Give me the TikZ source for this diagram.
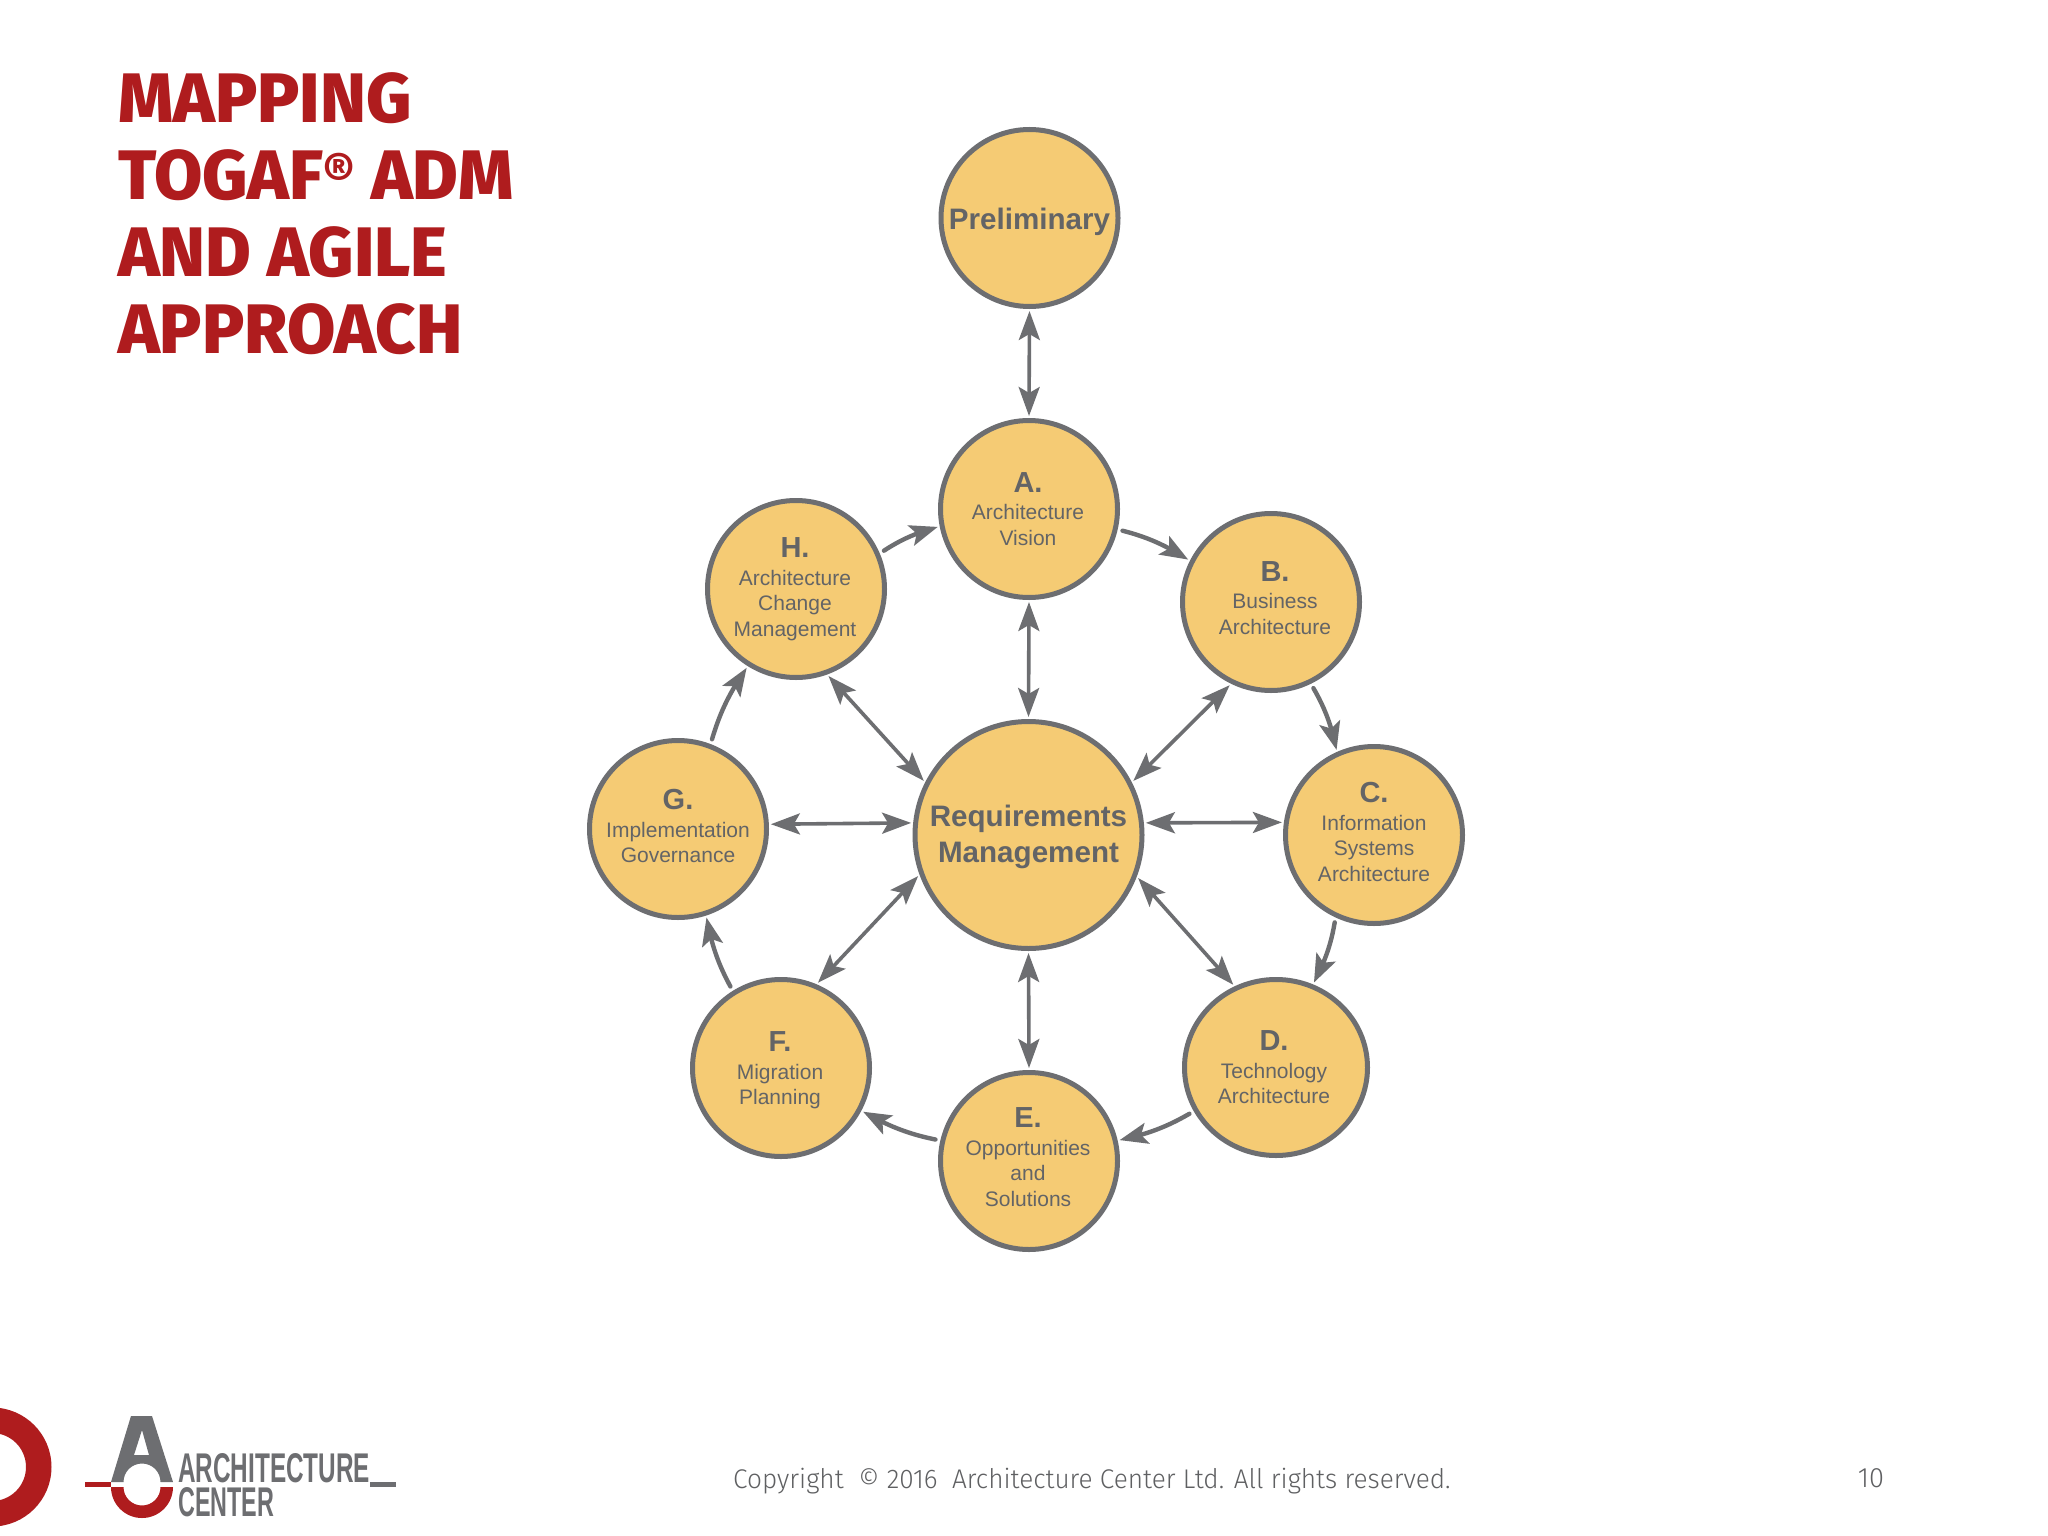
\documentclass[tikz,border=0pt]{standalone}
\usepackage{fontspec}
\usetikzlibrary{arrows.meta,bending,shapes.geometric}
\setmainfont{Liberation Sans}
\newfontfamily\titlefont{Fira Sans ExtraBold}
\newfontfamily\footfont[FakeStretch=0.97]{Fira Sans Light}
\newfontfamily\logofont{Liberation Sans}
\definecolor{phasefill}{HTML}{F5CB74}
\definecolor{phaseline}{HTML}{6D6E71}
\definecolor{phasetext}{HTML}{636466}
\definecolor{brandred}{HTML}{AF1C1E}
\definecolor{footgray}{HTML}{5F6062}
\newcommand{\phasehead}[1]{{\fontsize{29}{29}\selectfont\bfseries #1}\\[2pt]}
\tikzset{
  phase/.style={circle,draw=phaseline,fill=phasefill,line width=5pt,minimum size=177pt,inner sep=0pt},
  phasetxt/.style={align=center,inner sep=0pt,text=phasetext,font=\fontsize{21}{25.5}\selectfont},
  bigtxt/.style={phasetxt,font=\fontsize{29.6}{36.5}\selectfont\bfseries},
  flow/.style={draw=phaseline,line width=4.4pt,line cap=round,shorten <=5pt,shorten >=2pt,
    -{Stealth[length=28pt,width=21pt,inset=6pt,flex]}},
  link/.style={draw=phaseline,line width=3.6pt,shorten <=2pt,shorten >=2pt,
    {Stealth[length=29pt,width=21pt,inset=6pt]}-{Stealth[length=29pt,width=21pt,inset=6pt]}},
}
\begin{document}
\begin{tikzpicture}[x=1pt,y=-1pt]
\useasboundingbox (0,0) rectangle (2048,1536);
\fill[white] (0,0) rectangle (2048,1536);
% title
\node[anchor=north west,inner sep=0pt,align=left,text=brandred,font=\titlefont\fontsize{70}{77}\selectfont] (title) at (118,72)
  {MAPPING\\TOGAF\textsuperscript{®} ADM\\AND AGILE\\APPROACH};
% phases
\node[phase,label={[bigtxt,yshift=-4pt,font=\fontsize{29.6}{30}\selectfont\bfseries]center:Preliminary}] (P) at (1029.5,218) {};
\node[phase,label={[phasetxt,xshift=-1pt]center:{\phasehead{A.}Architecture\\Vision}}] (A) at (1029,509) {};
\node[phase,label={[phasetxt,xshift=4pt,yshift=4pt]center:{\phasehead{B.}Business\\Architecture}}] (B) at (1271,602) {};
\node[phase,label={[phasetxt,yshift=3pt]center:{\phasehead{C.}Information\\Systems\\Architecture}}] (C) at (1374,835) {};
\node[phase,ellipse,minimum width=183pt,minimum height=176pt,label={[phasetxt,xshift=-2pt]center:{\phasehead{D.}Technology\\Architecture}}] (D) at (1276,1067.5) {};
\node[phase,label={[phasetxt,yshift=4pt,xshift=-1pt]center:{\phasehead{E.}Opportunities\\and\\Solutions}}] (E) at (1029,1161) {};
\node[phase,label={[phasetxt,yshift=-2.5pt,xshift=-1pt]center:{\phasehead{F.}Migration\\Planning}}] (F) at (781,1068) {};
\node[phase,label={[phasetxt,yshift=3pt]center:{\phasehead{G.}Implementation\\Governance}}] (G) at (678,829) {};
\node[phase,label={[phasetxt,xshift=-1pt]center:{\phasehead{H.}Architecture\\Change\\Management}}] (H) at (796,589) {};
\node[phase,minimum size=227pt,label={[bigtxt,yshift=-2pt]center:{Requirements\\Management}}] (R) at (1028.5,835) {};
% cycle
\draw[flow] (A.-13) to[bend left=9] (B.153);
\draw[flow] (B.-64) to[bend left=9] (C.114);
\draw[flow] (C.-115) to[bend left=9] (D.66);
\draw[flow] (D.208) to[bend left=9] (E.13.6);
\draw[flow] (E.167) to[bend left=9] (F.-28);
\draw[flow] (F.122) to[bend left=9] (G.-72);
\draw[flow] (G.69) to[bend left=9] (H.238.5);
\draw[flow] (H.23.6) to[bend left=9] (A.191);
% links to requirements management
\draw[link] (P.-90) -- (A.90);
\draw[link] (A.-90) -- (R.90);
\draw[link] (R.27.4) -- (B.244);
\draw[link] (R.6.5) -- (C.172.5);
\draw[link] (R.-21.6) -- (D.117.7);
\draw[link] (R.-90) -- (E.90);
\draw[link] (R.200.4) -- (F.67);
\draw[link] (R.174.7) -- (G.3);
\draw[link] (R.153.4) -- (H.-70);
% footer
\node[anchor=base west,inner sep=0pt,text=footgray,font=\footfont\fontsize{27}{30}\selectfont] (copy) at (733,1488)
  {Copyright \ © 2016 \ Architecture Center Ltd. All rights reserved.};
\node[anchor=base,inner sep=0pt,text=footgray,font=\footfont\fontsize{28}{30}\selectfont] (page) at (1871,1487) {10};
% logo
\fill[brandred,even odd rule] (-8,1467) circle[radius=59.5] (-8,1467) circle[radius=34];
\fill[phaseline,even odd rule] (131,1416) -- (152,1416) -- (173,1482) -- (160.5,1482) arc[start angle=0,end angle=-180,radius=18.5] -- (111,1482) -- cycle
  (142,1430) -- (149,1455) -- (134,1455) -- cycle;
\fill[brandred] (85,1482) rectangle (111,1487);
\fill[brandred] (111,1487) -- (123.5,1487) arc[start angle=180,end angle=0,radius=18.5] -- (173,1487) arc[start angle=0,end angle=180,radius=31] -- cycle;
\fill[phaseline] (370,1482) rectangle (396,1487);
\node[anchor=base west,inner sep=0pt,text=phaseline,font=\logofont\bfseries\fontsize{40}{40}\selectfont] (arch) at (178,1482) {\resizebox{192pt}{29pt}{ARCHITECTURE}};
\node[anchor=base west,inner sep=0pt,text=phaseline,font=\logofont\bfseries\fontsize{40}{40}\selectfont] (cent) at (178,1516) {\resizebox{96pt}{29pt}{CENTER}};
\end{tikzpicture}
\end{document}
